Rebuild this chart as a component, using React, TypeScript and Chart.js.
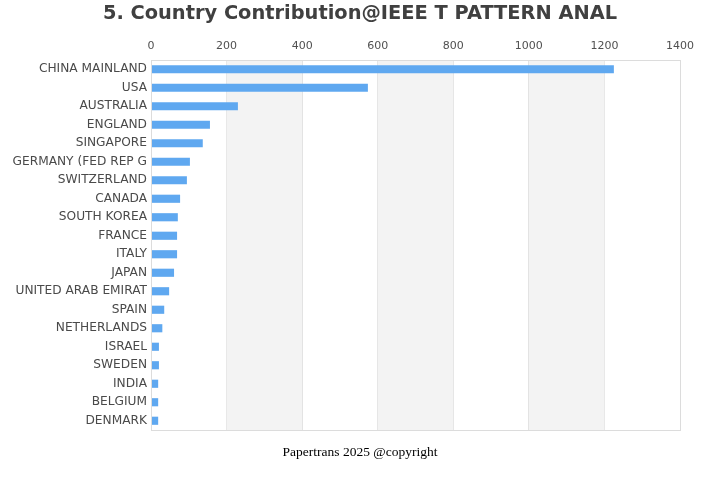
import React, { useEffect, useRef } from "react";
import { Chart, registerables } from "chart.js";

Chart.register(...registerables);

const TITLE = "5. Country Contribution@IEEE T PATTERN ANAL";
const FOOTER = "Papertrans 2025 @copyright";

const countries = [
  "CHINA MAINLAND",
  "USA",
  "AUSTRALIA",
  "ENGLAND",
  "SINGAPORE",
  "GERMANY (FED REP G",
  "SWITZERLAND",
  "CANADA",
  "SOUTH KOREA",
  "FRANCE",
  "ITALY",
  "JAPAN",
  "UNITED ARAB EMIRAT",
  "SPAIN",
  "NETHERLANDS",
  "ISRAEL",
  "SWEDEN",
  "INDIA",
  "BELGIUM",
  "DENMARK",
];

const counts = [1225, 574, 230, 156, 137, 103, 95, 77, 71, 69, 69, 61, 48, 35, 30, 21, 21, 19, 19, 19];

const axisMax = 1400;
const axisStep = 200;

const decorPlugin = {
  id: "decor",
  beforeDraw(chart: any) {
    const { ctx } = chart;
    ctx.save();
    ctx.fillStyle = "#ffffff";
    ctx.fillRect(0, 0, chart.width, chart.height);
    ctx.restore();
  },
  beforeDatasetsDraw(chart: any) {
    const { ctx, chartArea, scales } = chart;
    const x = scales.x;
    ctx.save();
    ctx.fillStyle = "#f3f3f3";
    for (let v = axisStep; v < axisMax; v += axisStep * 2) {
      const x0 = x.getPixelForValue(v);
      const x1 = x.getPixelForValue(v + axisStep);
      ctx.fillRect(x0, chartArea.top, x1 - x0, chartArea.bottom - chartArea.top);
    }
    ctx.restore();
  },
  afterDatasetsDraw(chart: any) {
    const { ctx, chartArea } = chart;
    ctx.save();
    ctx.strokeStyle = "#dcdcdc";
    ctx.lineWidth = 1;
    ctx.strokeRect(
      Math.round(chartArea.left) + 0.5,
      Math.round(chartArea.top) + 0.5,
      Math.round(chartArea.right - chartArea.left),
      Math.round(chartArea.bottom - chartArea.top)
    );
    ctx.restore();
  },
  afterDraw(chart: any) {
    const { ctx } = chart;
    const cx = chart.width / 2;
    ctx.save();
    ctx.textAlign = "center";
    ctx.textBaseline = "middle";
    ctx.fillStyle = "#404040";
    ctx.font = "bold 19.4px 'DejaVu Sans', sans-serif";
    ctx.fillText(TITLE, cx, 13.5);
    ctx.fillStyle = "#000000";
    ctx.font = "13.5px 'Liberation Serif', 'Times New Roman', serif";
    ctx.fillText(FOOTER, cx, 452);
    ctx.restore();
  },
};

export default function App() {
  const ref = useRef<HTMLCanvasElement | null>(null);

  useEffect(() => {
    if (!ref.current) return;
    const chart = new Chart(ref.current, {
      type: "bar",
      data: {
        labels: countries,
        datasets: [
          {
            data: counts,
            backgroundColor: "#5fa8f0",
            borderWidth: 0,
            barPercentage: 0.44,
            categoryPercentage: 1,
          },
        ],
      },
      options: {
        indexAxis: "y",
        animation: false,
        responsive: false,
        devicePixelRatio: 1,
        layout: { padding: { left: 0, right: 40, top: 25, bottom: 50 } },
        plugins: {
          legend: { display: false },
          tooltip: { enabled: false },
          title: { display: false },
        },
        scales: {
          x: {
            position: "top",
            min: 0,
            max: axisMax,
            ticks: {
              stepSize: axisStep,
              color: "#505050",
              padding: 7,
              font: { family: "'DejaVu Sans', sans-serif", size: 11 },
              callback: (v: any) => String(v),
            },
            grid: { color: "#e0e0e0", drawTicks: false, tickLength: 0 },
            border: { display: false },
            afterFit: (scale: any) => {
              scale.height = 35;
            },
          },
          y: {
            ticks: {
              color: "#4a4a4a",
              padding: 4,
              autoSkip: false,
              font: { family: "'DejaVu Sans', sans-serif", size: 12.2 },
            },
            grid: { display: false, drawTicks: false },
            border: { display: false },
            afterFit: (scale: any) => {
              scale.width = 151;
            },
          },
        },
      },
      plugins: [decorPlugin],
    } as any);
    return () => chart.destroy();
  }, []);

  return (
    <div style={{ position: "fixed", left: 0, top: 0, width: 720, height: 480 }}>
      <canvas ref={ref} width={720} height={480} />
    </div>
  );
}
